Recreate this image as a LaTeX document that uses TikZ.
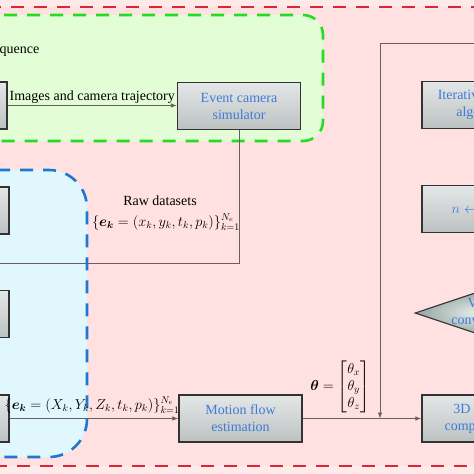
\documentclass[tikz,border=0pt]{standalone}
\usepackage{fontspec}
\setmainfont{Liberation Serif}
\usepackage{amsmath,bm}
\usetikzlibrary{arrows.meta,shapes.geometric}
\definecolor{outerbg}{HTML}{FFEAEA}
\definecolor{pinkbg}{HTML}{FFE1E1}
\definecolor{reddash}{HTML}{D9263A}
\definecolor{greenbg}{HTML}{E3FDD6}
\definecolor{greendash}{HTML}{22DD22}
\definecolor{bluebg}{HTML}{E0F7FD}
\definecolor{bluedash}{HTML}{1E78D2}
\definecolor{boxtext}{HTML}{3F7BD6}
\definecolor{boxborder}{HTML}{333333}
\definecolor{connline}{HTML}{666060}
\definecolor{boxtop}{HTML}{E4E7E7}
\definecolor{boxmid}{HTML}{DADEDE}
\definecolor{boxbot}{HTML}{BCC1C1}
\definecolor{decin}{HTML}{EEF4F2}
\definecolor{decout}{HTML}{93A4A2}
\tikzset{
  txt/.style={font=\fontsize{14}{17}\selectfont, text=black, inner sep=1pt},
  procbox/.style={draw=boxborder, line width=1.3pt, minimum width=123pt, minimum height=47pt,
    top color=boxtop, middle color=boxmid, bottom color=boxbot,
    text=boxtext, align=center, font=\fontsize{14}{17}\selectfont, inner sep=2pt},
  decbox/.style={shape=diamond, draw=boxborder, line width=1.1pt, minimum width=137pt, minimum height=46pt,
    inner sep=0pt, inner color=decin, outer color=decout},
  conn/.style={draw=connline, line width=0.8pt},
  tip/.style={-{Latex[length=6pt,width=4.5pt]}},
  region/.style={line width=2.6pt, dash pattern=on 13pt off 10pt}
}
\begin{document}
\begin{tikzpicture}[x=1pt,y=-1pt]
\useasboundingbox (0,0) rectangle (474,474);
\clip (0,0) rectangle (474,474);
\fill[outerbg] (0,0) rectangle (474,474);
% regions
\draw[region, draw=reddash, fill=pinkbg] (-30,7) rectangle (504,466);
\draw[region, draw=greendash, fill=greenbg, rounded corners=20pt] (-200,15) rectangle (323,141);
\draw[region, draw=bluedash, fill=bluebg, rounded corners=38pt] (-200,170) rectangle (87,457);
% text in the green region
\node[txt, anchor=east] (seqlabel) at (40.5,50) {Image sequence};
% boxes
\node[procbox] (img) at (-54.5,105.5) {};
\node[procbox] (sim) at (239,106) {Event camera\\simulator};
\node[procbox] (lb1) at (-52.5,210.5) {};
\node[procbox] (lb2) at (-52.5,314) {};
\node[procbox] (lb3) at (-52.5,418.5) {};
\node[procbox] (motion) at (240.5,418.5) {Motion flow\\estimation};
\node[procbox] (iter) at (483.5,105) {Iterative solving\\algorithm};
\node[procbox] (upd) at (483.5,209) {$n\leftarrow n+1$};
\node[decbox] (dec) at (483.5,313) {};
\node[text=boxtext, align=center, font=\fontsize{14}{17}\selectfont, inner sep=0pt] (dectext) at (dec.center) {Value\\converged?};
\node[procbox] (comp) at (483.5,418.5) {3D motion\\compensation};
% coordinates
\coordinate (rawcorner) at (239,263);
\coordinate (rawend) at (-20,263);
\coordinate (topright) at (490,43);
\coordinate (topcorner) at (380,43);
% connectors
\draw[conn, tip] (img.east) -- (img.east -| sim.west)
  node[txt, midway, above=1pt] (imglabel) {Images and camera trajectory};
\draw[conn] (sim.south) -- (rawcorner) -- (rawend);
\node[txt] (rawlabel) at (160,201) {Raw datasets};
\node[txt] (rawformula) at (166,222) {$\{\bm{e_k}=(x_k,y_k,t_k,p_k)\}_{k=1}^{N_e}$};
\draw[conn, tip] (lb3.east) -- (motion.west);
\node[txt] (eventformula) at (92,405) {$\{\bm{e_k}=(X_k,Y_k,Z_k,t_k,p_k)\}_{k=1}^{N_e}$};
\draw[conn, tip] (motion.east) -- (comp.west);
\draw[conn, tip] (topright) -- (topcorner) -- (topcorner |- motion.east);
\node[txt] (thetalabel) at (340,387) {$\bm{\theta}=\begin{bmatrix}\theta_x\\ \theta_y\\ \theta_z\end{bmatrix}$};
\end{tikzpicture}
\end{document}
